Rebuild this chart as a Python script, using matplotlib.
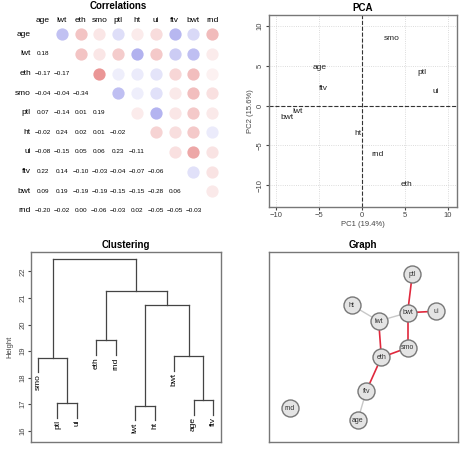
import matplotlib
matplotlib.use("Agg")
import matplotlib.pyplot as plt
import numpy as np
from matplotlib.colors import to_rgba

plt.rcParams['font.family'] = ['Liberation Sans', 'DejaVu Sans']

vars_ = ["age", "lwt", "eth", "smo", "ptl", "ht", "ui", "ftv", "bwt", "rnd"]
lower = [
    [],
    [0.18],
    [-0.17, -0.17],
    [-0.04, -0.04, -0.34],
    [0.07, -0.14, 0.01, 0.19],
    [-0.02, 0.24, 0.02, 0.01, -0.02],
    [-0.08, -0.15, 0.05, 0.06, 0.23, -0.11],
    [0.22, 0.14, -0.10, -0.03, -0.04, -0.07, -0.06],
    [0.09, 0.19, -0.19, -0.19, -0.15, -0.15, -0.28, 0.06],
    [-0.20, -0.02, 0.00, -0.06, -0.03, 0.02, -0.05, -0.05, -0.03],
]

pca_labels = ["smo", "age", "ptl", "ftv", "ui", "lwt", "bwt", "ht", "rnd", "eth"]
pca_x = [3.5, -5.0, 7.0, -4.5, 8.6, -7.5, -8.8, -0.5, 1.8, 5.2]
pca_y = [8.5, 4.8, 4.2, 2.1, 1.8, -0.7, -1.5, -3.5, -6.2, -9.9]

leaf_order = ["smo", "ptl", "ui", "eth", "rnd", "lwt", "ht", "bwt", "age", "ftv"]
merges = [
    (-6, -7, 16.95),
    (-2, -3, 17.05),
    (-9, -10, 17.15),
    (-1, 2, 18.75),
    (-8, 3, 18.8),
    (-4, -5, 19.4),
    (1, 5, 20.75),
    (6, 7, 21.25),
    (4, 8, 22.45),
]
hang = 0.55

node_names = ["ptl", "ht", "lwt", "bwt", "ui", "smo", "eth", "ftv", "age", "rnd"]
node_x = [0.760, 0.440, 0.582, 0.735, 0.887, 0.735, 0.596, 0.516, 0.471, 0.111]
node_y = [0.885, 0.721, 0.637, 0.681, 0.689, 0.496, 0.445, 0.267, 0.112, 0.176]
red_edges = [("ptl", "bwt"), ("bwt", "ui"), ("bwt", "smo"), ("smo", "eth"), ("eth", "lwt"), ("eth", "ftv")]
gray_edges = [("ht", "lwt"), ("lwt", "bwt"), ("ftv", "age")]

W = H = 474
fig = plt.figure(figsize=(4.74, 4.74), dpi=100)

def ax_px(l, t, r, b):
    return fig.add_axes([l / W, 1 - b / H, (r - l) / W, (b - t) / H])

# ---------- Correlations ----------
ax = ax_px(0, 0, 237, 230)
ax.set_xlim(0, 237); ax.set_ylim(230, 0); ax.axis("off")
ax.text(118, 6, "Correlations", ha="center", va="center", fontsize=7, fontweight="bold")
cx0, dx, cy0, dy = 43, 18.8, 34.3, 19.6
n = len(vars_)
for i, v in enumerate(vars_):
    ax.text(cx0 + dx * i, 20.7, v, ha="center", va="center", fontsize=6)
    ax.text(31, cy0 + dy * i, v, ha="right", va="center", fontsize=6)
for i in range(n):
    for j in range(i):
        r = lower[i][j]
        ax.text(cx0 + dx * j, cy0 + dy * i, f"{r:.2f}".replace("-", "\u2212"),
                ha="center", va="center", fontsize=4.6)
        col = "#3c3cd8" if r > 0 else "#d83a3a"
        a = min(1.0, abs(r) * 1.35 + 0.07)
        ax.scatter(cx0 + dx * i, cy0 + dy * j, s=78, color=to_rgba(col, a), linewidths=0)

# ---------- PCA ----------
ax = ax_px(268.7, 15, 457, 206.7)
ax.set_xlim(-10.9, 11.08); ax.set_ylim(-12.7, 11.4)
ax.set_xticks([-10, -5, 0, 5, 10]); ax.set_yticks([-10, -5, 0, 5, 10])
ax.grid(True, color="#d0d0d0", linestyle=":", linewidth=0.6)
ax.axhline(0, color="#333", linestyle="--", linewidth=0.8)
ax.axvline(0, color="#333", linestyle="--", linewidth=0.8)
for lab, x, y in zip(pca_labels, pca_x, pca_y):
    ax.text(x, y, lab, ha="center", va="center", fontsize=6, color="#222")
ax.set_title("PCA", fontsize=7, fontweight="bold", pad=3)
ax.set_xlabel("PC1 (19.4%)", fontsize=5.5, color="#444", labelpad=2)
ax.set_ylabel("PC2 (15.6%)", fontsize=5.5, color="#444", labelpad=2)
for lab in ax.get_yticklabels():
    lab.set_rotation(90); lab.set_va("center")
ax.tick_params(labelsize=5.5, length=2, pad=1.5, colors="#444")
for s in ax.spines.values():
    s.set_color("#777"); s.set_linewidth(1.0)

# ---------- Clustering ----------
ax = ax_px(31, 252, 221, 441.7)
ax.set_xlim(0.64, 10.41); ax.set_ylim(15.59, 22.73)
ax.set_xticks([])
ax.set_yticks([16, 17, 18, 19, 20, 21, 22])
for lab in ax.get_yticklabels():
    lab.set_rotation(90); lab.set_va("center")
ax.tick_params(labelsize=5.5, length=2, pad=1.5, colors="#444")
ax.set_ylabel("Height", fontsize=5.5, color="#444", labelpad=4)
ax.set_title("Clustering", fontsize=7, fontweight="bold", pad=3)
for s in ax.spines.values():
    s.set_color("#777"); s.set_linewidth(1.0)
pos = {}
hgt = {}
lc = "#444"
for k, (a_, b_, h) in enumerate(merges, start=1):
    xs = []
    for c in (a_, b_):
        if c < 0:
            x = -c
            ax.plot([x, x], [h - hang, h], color=lc, lw=0.9)
            ax.text(x, h - hang - 0.08, leaf_order[-c - 1], rotation=90, ha="center", va="top", fontsize=6)
        else:
            x = pos[c]
            ax.plot([x, x], [hgt[c], h], color=lc, lw=0.9)
        xs.append(x)
    ax.plot(xs, [h, h], color=lc, lw=0.9)
    pos[k] = sum(xs) / 2
    hgt[k] = h

# ---------- Graph ----------
ax = ax_px(268.7, 252.3, 457.7, 441.7)
ax.set_xlim(0, 1); ax.set_ylim(0, 1)
ax.set_xticks([]); ax.set_yticks([])
ax.set_title("Graph", fontsize=7, fontweight="bold", pad=3)
for s in ax.spines.values():
    s.set_color("#777"); s.set_linewidth(1.0)
P = {nm: (x, y) for nm, x, y in zip(node_names, node_x, node_y)}
for a_, b_ in gray_edges:
    ax.plot([P[a_][0], P[b_][0]], [P[a_][1], P[b_][1]], color="#c8c8c8", lw=1.0, zorder=1)
for a_, b_ in red_edges:
    ax.plot([P[a_][0], P[b_][0]], [P[a_][1], P[b_][1]], color="#e0283c", lw=1.2, zorder=1)
ax.scatter(node_x, node_y, s=150, color="#e4e4e4", edgecolors="#777", linewidths=1.0, zorder=2)
for nm, x, y in zip(node_names, node_x, node_y):
    ax.text(x, y, nm, ha="center", va="center", fontsize=5, color="#333", zorder=3)

fig.savefig("out.png", dpi=100)
